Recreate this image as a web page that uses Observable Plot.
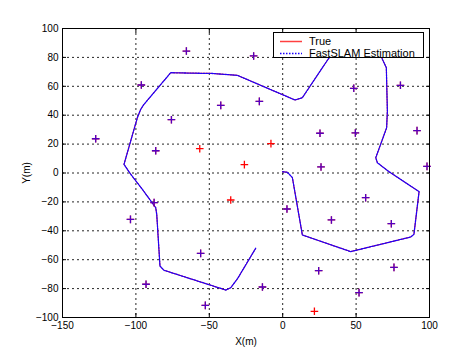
<!DOCTYPE html>
<html>
<head>
<meta charset="utf-8">
<script src="https://cdn.jsdelivr.net/npm/d3@7"></script>
<script src="https://cdn.jsdelivr.net/npm/@observablehq/plot@0.6"></script>
<style>
  body { margin: 0; background: #fff; }
  #wrap { position: relative; width: 474px; height: 355px; font-family: Arial, "Liberation Sans", sans-serif; }
  #legend { position: absolute; left: 273px; top: 32px; width: 151px; height: 26px; background: #fff; border: 1px solid #000; box-sizing: border-box; font-size: 11px; color: #000; }
  #legend .row { position: absolute; left: 0; height: 12px; line-height: 12px; white-space: nowrap; }
  #legend svg { position: absolute; left: 6px; top: 0; }
  #legend span { position: absolute; left: 35px; top: 0; }
</style>
</head>
<body>
<div id="wrap"></div>
<script>
// Robot path (true & FastSLAM estimate share the same route)
const pathX = [-18.4, -30.7, -35.4, -38.8, -80.9, -83.6, -85.8, -86.5, -95.6, -103.5, -108.1, -99.0, -96.7, -94.5, -76.3, -55.9, -49.7, -30.9, 8.4, 13.4, 30.9, 36, 66, 67.9, 70.6, 71.3, 70.8, 63.4, 64.5, 72.4, 92.9, 89.4, 87.2, 46.3, 13.4, 6.6, 3.2, -0.2];
const pathY = [-52.1, -73.0, -79.4, -81.0, -67.3, -64.4, -28.6, -24.0, -11.3, -0.9, 6.0, 38.3, 44.1, 47.5, 69.4, 69.0, 69.0, 67.6, 50.5, 52.1, 78.7, 86, 86, 78.7, 72.9, 42.9, 31.3, 10.6, 7.1, 0.9, -12.9, -42.4, -44.3, -54.4, -42.9, -3.2, 0.5, 0.9];

// True landmarks
const trueLmX = [-127.4, -96.3, -65.6, -86.5, -75.8, -56.5, -42.2, -19.8, -15.9, -8.0, -26.1, 48.4, 80.2, 25.4, 49.5, 91.5, 26.1, 98.3, -87.6, -35.4, -103.7, -55.9, -93.1, -52.7, 2.9, 56.5, 33.2, 74.0, 24.5, 75.8, -13.8, 52.0, 21.6];
const trueLmY = [23.7, 60.9, 84.4, 15.4, 36.9, 16.8, 46.8, 81.0, 49.6, 20.3, 5.8, 58.6, 60.7, 27.5, 27.7, 29.3, 4.2, 4.6, -20.5, -18.7, -32.1, -55.6, -77.0, -91.6, -24.9, -17.1, -32.5, -35.1, -67.6, -65.3, -78.9, -82.8, -95.7];

// Estimated landmarks
const estLmX = [-127.4, -96.3, -65.6, -86.5, -75.8, -42.2, -19.8, -15.9, 48.4, 80.2, 25.4, 49.5, 91.5, 26.1, 98.3, -87.6, -103.7, -55.9, -93.1, -52.7, 2.9, 56.5, 33.2, 74.0, 24.5, 75.8, -13.8, 52.0];
const estLmY = [23.7, 60.9, 84.4, 15.4, 36.9, 46.8, 81.0, 49.6, 58.6, 60.7, 27.5, 27.7, 29.3, 4.2, 4.6, -20.5, -32.1, -55.6, -77.0, -91.6, -24.9, -17.1, -32.5, -35.1, -67.6, -65.3, -78.9, -82.8];

const xTicks = [-150, -100, -50, 0, 50, 100];
const yTicks = [-100, -80, -60, -40, -20, 0, 20, 40, 60, 80, 100];
const legendLabels = ["True", "FastSLAM Estimation"];

const path = pathX.map((x, i) => ({x, y: pathY[i]}));
const trueLm = trueLmX.map((x, i) => ({x, y: trueLmY[i]}));
const estLm = estLmX.map((x, i) => ({x, y: estLmY[i]}));

const plus = {
  draw(ctx, size) {
    const r = Math.sqrt(size / Math.PI);
    ctx.moveTo(-r, 0); ctx.lineTo(r, 0);
    ctx.moveTo(0, -r); ctx.lineTo(0, r);
  }
};

const chart = Plot.plot({
  width: 474,
  height: 355,
  marginLeft: 62,
  marginRight: 45,
  marginTop: 28,
  marginBottom: 38,
  style: {fontFamily: "Arial, 'Liberation Sans', sans-serif", fontSize: "10px", color: "#000", background: "#fff"},
  x: {domain: [-150, 100]},
  y: {domain: [-100, 100]},
  marks: [
    Plot.gridX(xTicks.slice(1, -1), {stroke: "#000", strokeOpacity: 0.85, strokeDasharray: "2,3"}),
    Plot.gridY(yTicks.slice(1, -1), {stroke: "#000", strokeOpacity: 0.85, strokeDasharray: "2,3"}),
    Plot.line(path, {x: "x", y: "y", stroke: "#ff0000", strokeWidth: 1}),
    Plot.line(path, {x: "x", y: "y", stroke: "#1a00ff", strokeWidth: 1.3, strokeDasharray: "1.5,1.2"}),
    Plot.dot(trueLm, {x: "x", y: "y", symbol: plus, r: 3.8, stroke: "#ff0000", strokeWidth: 1.3, fill: "none"}),
    Plot.dot(estLm, {x: "x", y: "y", symbol: plus, r: 3.8, stroke: "#1a00ff", strokeWidth: 1.3, strokeOpacity: 0.75, fill: "none"}),
    Plot.axisX(xTicks, {tickSize: -4, tickFormat: () => "", stroke: "#000", label: null}),
    Plot.axisX(xTicks, {anchor: "top", tickSize: -4, tickFormat: () => "", stroke: "#000", label: null}),
    Plot.axisY(yTicks, {tickSize: -4, tickFormat: () => "", stroke: "#000", label: null}),
    Plot.axisY(yTicks, {anchor: "right", tickSize: -4, tickFormat: () => "", stroke: "#000", label: null}),
    Plot.axisX(xTicks, {tickSize: 0, tickPadding: 4, fill: "#000", label: "X(m)", labelAnchor: "center", labelArrow: "none", labelOffset: 27}),
    Plot.axisY(yTicks, {tickSize: 0, tickPadding: 4, fill: "#000", label: "Y(m)", labelAnchor: "center", labelArrow: "none", labelOffset: 40}),
    Plot.frame({stroke: "#000"})
  ]
});

const wrap = document.getElementById("wrap");
wrap.appendChild(chart);

const legend = document.createElement("div");
legend.id = "legend";
legend.innerHTML = `
  <div class="row" style="top:1.5px">
    <svg width="24" height="12"><line x1="0" y1="6.5" x2="22" y2="6.5" stroke="#ff4040" stroke-width="1.5"/></svg>
    <span>${legendLabels[0]}</span>
  </div>
  <div class="row" style="top:13.5px">
    <svg width="24" height="12"><line x1="0" y1="6.5" x2="22" y2="6.5" stroke="#1a00ff" stroke-width="1.5" stroke-dasharray="1.5,1.5"/></svg>
    <span>${legendLabels[1]}</span>
  </div>`;
wrap.appendChild(legend);
</script>
</body>
</html>
